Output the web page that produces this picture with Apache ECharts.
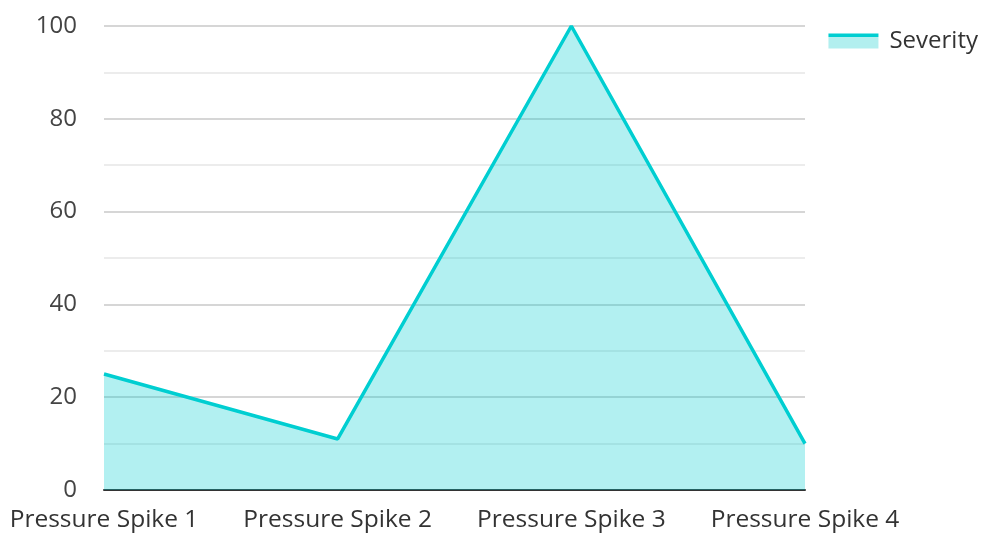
<!DOCTYPE html>
<html><head><meta charset="utf-8">
<script src="https://cdn.jsdelivr.net/npm/echarts@6/dist/echarts.min.js"></script>
<style>html,body{margin:0;padding:0;background:#fff}#c{width:981px;height:533px}</style>
</head><body><div id="c"></div>
<script>
const categories = ["Pressure Spike 1", "Pressure Spike 2", "Pressure Spike 3", "Pressure Spike 4"];
const severity = [25, 11, 100, 10];
const seriesName = "Severity";

const FONT = '"Open Sans", "Noto Sans", sans-serif';
const chart = echarts.init(document.getElementById('c'), null, {renderer: 'canvas'});
chart.setOption({
  animation: false,
  grid: {left: 104, right: 176, top: 26, bottom: 42, containLabel: false},
  legend: {
    right: -2, top: 24, padding: 5, itemWidth: 50, itemHeight: 15, itemGap: 10,
    icon: 'rect',
    textStyle: {fontFamily: FONT, fontSize: 24, color: '#333', padding: [0, 0, 0, 6]},
    data: [{name: seriesName, itemStyle: {color: new echarts.graphic.LinearGradient(0,0,0,1,[
      {offset:0,color:'#00CED1'},{offset:0.24,color:'#00CED1'},{offset:0.25,color:'#b2efef'},{offset:1,color:'#b2efef'}])}}]
  },
  xAxis: {
    type: 'category', data: categories, boundaryGap: false,
    axisLine: {lineStyle: {color: '#333', width: 2}},
    axisTick: {show: false},
    axisLabel: {fontFamily: FONT, fontSize: 24.5, color: '#333', margin: 18, interval: 0},
    splitLine: {show: false}
  },
  yAxis: {
    type: 'value', min: 0, max: 100, interval: 20,
    axisLine: {show: false}, axisTick: {show: false},
    axisLabel: {fontFamily: FONT, fontSize: 24, color: '#444', margin: 27},
    splitLine: {lineStyle: {color: '#c8c8c8', width: 1.5}},
    minorTick: {show: false, splitNumber: 2},
    minorSplitLine: {show: true, lineStyle: {color: '#e6e6e6', width: 1.5}}
  },
  series: [{
    name: seriesName, type: 'line', data: severity,
    symbol: 'none',
    lineStyle: {color: '#00CED1', width: 3.5},
    itemStyle: {color: '#00CED1'},
    areaStyle: {color: '#00CED1', opacity: 0.3}
  }]
});
</script></body></html>
